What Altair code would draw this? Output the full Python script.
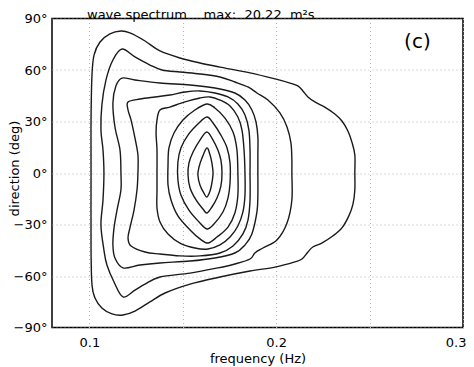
import altair as alt
import pandas as pd

# contour lines of the wave spectrum (frequency in Hz, direction in deg), outermost first
c1_freq = [0.1169, 0.1217, 0.1298, 0.1378, 0.1485, 0.1592, 0.1699, 0.1860, 0.1994, 0.2074, 0.2116, 0.2143, 0.2170,
           0.2207, 0.2260, 0.2314, 0.2352, 0.2384, 0.2405, 0.2421, 0.2421, 0.2421, 0.2411, 0.2389, 0.2352, 0.2303,
           0.2244, 0.2196, 0.2170, 0.2138, 0.2100, 0.1994, 0.1860, 0.1699, 0.1539, 0.1405, 0.1324, 0.1244, 0.1180,
           0.1121, 0.1067, 0.1030, 0.1014, 0.1009, 0.1009, 0.1009, 0.1014, 0.1025, 0.1057, 0.1110]
c1_dir = [82.7, 81.6, 76.9, 71.1, 67.0, 64.1, 61.7, 58.3, 54.8, 52.4, 50.7, 47.8, 44.3,
          41.4, 38.4, 34.4, 30.3, 24.5, 18.1, 10.5, 0.0, -9.9, -18.1, -25.0, -32.0, -36.7,
          -40.8, -43.1, -46.0, -50.1, -51.8, -54.8, -57.1, -60.6, -64.7, -69.9, -75.1, -80.4, -82.7,
          -82.1, -78.6, -72.8, -65.2, -44.9, 0.0, 30.9, 57.1, 68.7, 76.3, 81.0]

c2_freq = [0.1175, 0.1244, 0.1324, 0.1389, 0.1485, 0.1592, 0.1699, 0.1779, 0.1849, 0.1897, 0.1956, 0.2020, 0.2058,
           0.2079, 0.2084, 0.2084, 0.2084, 0.2058, 0.2004, 0.1929, 0.1886, 0.1860, 0.1779, 0.1688, 0.1539, 0.1378,
           0.1298, 0.1244, 0.1180, 0.1132, 0.1094, 0.1078, 0.1062, 0.1073, 0.1078, 0.1073, 0.1062, 0.1067, 0.1089,
           0.1126]
c2_dir = [72.2, 67.6, 62.9, 60.0, 58.8, 57.7, 55.9, 53.0, 50.1, 46.6, 42.5, 35.0, 26.8,
          17.5, 7.6, 0.0, -15.7, -29.1, -39.0, -43.7, -46.6, -50.1, -53.0, -55.3, -58.3, -60.6,
          -64.7, -68.2, -72.2, -63.5, -53.6, -44.9, -30.3, -15.7, 0.0, 13.4, 25.0, 39.6, 54.2,
          65.8]

c3_freq = [0.1175, 0.1244, 0.1378, 0.1539, 0.1672, 0.1779, 0.1833, 0.1870, 0.1892, 0.1902, 0.1902, 0.1902, 0.1902,
           0.1897, 0.1870, 0.1833, 0.1779, 0.1672, 0.1539, 0.1378, 0.1271, 0.1180, 0.1137, 0.1126, 0.1132, 0.1148,
           0.1169, 0.1169, 0.1164, 0.1137, 0.1126, 0.1142]
c3_dir = [55.3, 54.2, 52.4, 51.3, 49.5, 46.6, 42.5, 36.7, 29.7, 21.0, 10.5, 0.0, -12.8,
          -22.7, -35.5, -41.9, -46.6, -49.5, -51.3, -52.4, -53.6, -55.3, -49.5, -41.9, -32.0, -21.6,
          -9.9, 0.0, 13.4, 26.8, 40.8, 50.7]

c4_freq = [0.1207, 0.1271, 0.1351, 0.1431, 0.1512, 0.1592, 0.1672, 0.1742, 0.1795, 0.1833, 0.1854, 0.1860, 0.1860,
           0.1860, 0.1849, 0.1822, 0.1769, 0.1699, 0.1592, 0.1485, 0.1378, 0.1298, 0.1223, 0.1207, 0.1217, 0.1239,
           0.1255, 0.1260, 0.1260, 0.1244, 0.1223, 0.1207]
c4_dir = [41.4, 43.1, 44.3, 45.4, 47.2, 47.8, 46.6, 44.3, 40.2, 33.8, 25.0, 13.4, 0.0,
          -15.7, -27.4, -35.5, -42.5, -46.6, -48.3, -48.3, -47.2, -46.0, -42.5, -37.9, -32.0, -21.6,
          -9.9, 0.0, 10.5, 20.4, 30.9, 36.7]

c5_freq = [0.1378, 0.1431, 0.1512, 0.1592, 0.1646, 0.1699, 0.1753, 0.1795, 0.1817, 0.1828, 0.1833, 0.1833, 0.1822,
           0.1795, 0.1753, 0.1699, 0.1635, 0.1565, 0.1485, 0.1421, 0.1378, 0.1362, 0.1362, 0.1362, 0.1362, 0.1357,
           0.1362]
c5_dir = [36.7, 38.4, 41.4, 43.7, 44.3, 42.5, 39.0, 32.6, 25.0, 13.4, 0.0, -12.8, -22.7,
          -30.9, -37.3, -41.9, -44.3, -43.7, -40.8, -35.5, -28.5, -20.4, -9.9, 0.0, 13.4, 23.3,
          30.9]

c6_freq = [0.1629, 0.1672, 0.1726, 0.1769, 0.1790, 0.1795, 0.1795, 0.1779, 0.1742, 0.1683, 0.1635, 0.1592, 0.1539,
           0.1474, 0.1437, 0.1421, 0.1421, 0.1426, 0.1453, 0.1501, 0.1565]
c6_dir = [40.2, 37.9, 32.0, 23.9, 13.4, 0.0, -12.8, -23.3, -31.5, -37.3, -40.8, -38.4, -33.2,
          -25.0, -15.7, -7.0, 4.7, 14.6, 23.3, 30.9, 36.7]

c7_freq = [0.1629, 0.1662, 0.1704, 0.1737, 0.1753, 0.1753, 0.1742, 0.1715, 0.1667, 0.1629, 0.1587, 0.1533, 0.1490,
           0.1474, 0.1474, 0.1490, 0.1528, 0.1581]
c7_dir = [32.6, 29.1, 22.1, 14.6, 5.8, -5.8, -14.6, -22.7, -29.7, -32.6, -28.5, -21.6, -12.8,
          -4.1, 6.4, 14.6, 22.1, 28.5]

c8_freq = [0.1629, 0.1662, 0.1688, 0.1704, 0.1710, 0.1704, 0.1683, 0.1656, 0.1629, 0.1608, 0.1571, 0.1539, 0.1528,
           0.1533, 0.1555, 0.1592]
c8_dir = [23.9, 19.2, 13.4, 7.6, 0.0, -7.6, -14.6, -19.8, -23.3, -21.0, -15.7, -8.7, -1.2,
          5.8, 12.2, 19.2]

c9_freq = [0.1629, 0.1646, 0.1656, 0.1662, 0.1656, 0.1646, 0.1629, 0.1613, 0.1592, 0.1581, 0.1587, 0.1603]
c9_dir = [14.6, 10.5, 5.8, 0.0, -5.8, -10.5, -14.0, -11.7, -7.0, -1.2, 3.5, 8.7]

x_ticks = [0.1, 0.15, 0.2, 0.25, 0.3]
y_ticks = [-90, -60, -30, 0, 30, 60, 90]
title_text = ["wave spectrum\u00a0\u00a0\u00a0\u00a0max:\u00a0\u00a020.22\u00a0\u00a0m\u00b2s"]
panel_label = ["(c)"]
panel_freq = [0.2756]
panel_dir = [76.3]

contours = [(c1_freq, c1_dir), (c2_freq, c2_dir), (c3_freq, c3_dir), (c4_freq, c4_dir), (c5_freq, c5_dir),
            (c6_freq, c6_dir), (c7_freq, c7_dir), (c8_freq, c8_dir), (c9_freq, c9_dir)]
rows = []
for k, (fs, ds) in enumerate(contours):
    for i, (f, d) in enumerate(zip(fs, ds)):
        rows.append({"contour": k + 1, "idx": i, "freq": f, "dir": d})
df = pd.DataFrame(rows)

FONT = "DejaVu Sans"

x_enc = alt.X("freq:Q", scale=alt.Scale(domain=[0.08, 0.3], nice=False, zero=False),
              axis=alt.Axis(values=x_ticks, grid=True, gridDash=[1, 3], gridColor="#b4b4b4", gridWidth=1,
                            ticks=False, tickSize=0, domain=False, labelFlush=True, labelFlushOffset=3,
                            labelExpr="round(datum.value*20) % 2 == 0 ? format(datum.value, '.1f') : ''",
                            labelFont=FONT, labelFontSize=13, labelColor="black", labelPadding=9,
                            labelBaseline="top",
                            title="frequency (Hz)", titleFont=FONT, titleFontSize=13, titleFontWeight="normal",
                            titleColor="black", titleY=35, titleBaseline="alphabetic"))
y_enc = alt.Y("dir:Q", scale=alt.Scale(domain=[-90, 90], nice=False, zero=False),
              axis=alt.Axis(values=y_ticks, grid=True, gridDash=[1, 3], gridColor="#b4b4b4", gridWidth=1,
                            ticks=False, tickSize=0, domain=False, labelFlush=False,
                            labelExpr="datum.label + '\u00b0'",
                            labelFont=FONT, labelFontSize=13, labelColor="black", labelPadding=5,
                            labelBaseline="middle",
                            title="direction (deg)", titleFont=FONT, titleFontSize=13, titleFontWeight="normal",
                            titleColor="black", titleX=-33.5, titleY=149.5, titleBaseline="alphabetic",
                            titleAngle=270))

lines = alt.Chart(df).mark_line(color="#1a1a1a", strokeWidth=1.4, interpolate="cardinal-closed").encode(
    x=x_enc, y=y_enc, detail="contour:N", order="idx:Q")

lab_df = pd.DataFrame({"label": panel_label, "freq": panel_freq, "dir": panel_dir})
panel = alt.Chart(lab_df).mark_text(font=FONT, fontSize=20, color="black", align="center",
                                    baseline="middle").encode(x="freq:Q", y="dir:Q", text="label:N")

ttl_df = pd.DataFrame({"t": title_text})
ttl = alt.Chart(ttl_df).mark_text(font=FONT, fontSize=13, color="black", align="left",
                                  baseline="alphabetic").encode(x=alt.value(35), y=alt.value(0), text="t:N")

chart = alt.layer(lines, panel, ttl).properties(
    width=411, height=309,
    padding={"left": 44, "top": 10.5, "right": 3, "bottom": 39.5},
    autosize="none",
).configure_view(stroke="black", strokeWidth=1.5)

chart.save("out.html", embed_options={"renderer": "svg", "actions": False})
